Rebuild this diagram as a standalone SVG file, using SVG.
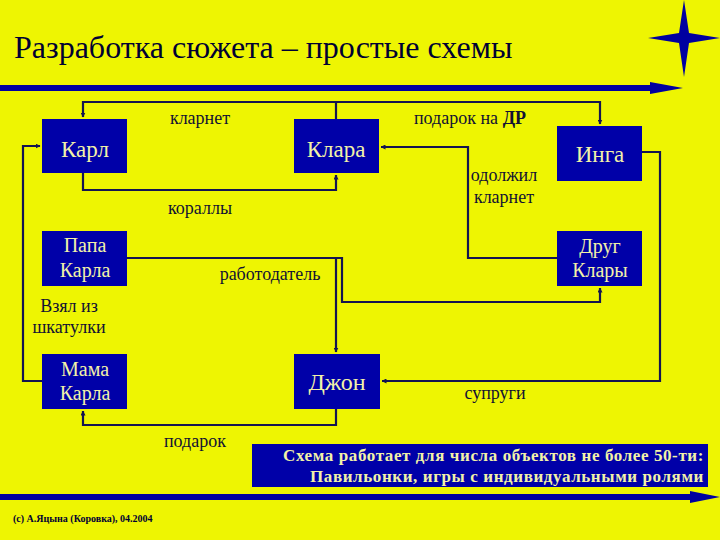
<svg xmlns="http://www.w3.org/2000/svg" width="720" height="540" viewBox="0 0 720 540">
<defs>
<style>
.node{fill:#0000A8;}
.nt{font-family:"Liberation Serif","DejaVu Serif",serif;fill:#F2F2A8;text-anchor:middle;}
.lbl{font-family:"Liberation Serif","DejaVu Serif",serif;fill:#111133;font-size:18px;text-anchor:middle;}
.conn{fill:none;stroke:#141450;stroke-width:2.2;}
.note{font-family:"Liberation Serif","DejaVu Serif",serif;font-size:17px;font-weight:bold;fill:#F2F2A8;text-anchor:end;letter-spacing:0.6px;}
</style>
<marker id="ah" viewBox="0 0 10 10" refX="9" refY="5" markerWidth="5" markerHeight="5" orient="auto" markerUnits="userSpaceOnUse">
<path d="M0,0 L10,5 L0,10 z" fill="#141450"/>
</marker>
</defs>
<rect x="0" y="0" width="720" height="540" fill="#EEF502"/>
<g id="title">
<text x="14" y="58" font-family="Liberation Serif, DejaVu Serif, serif" font-size="32" fill="#000033">Разработка сюжета – простые схемы</text>
</g>
<g id="star">
<path d="M684,0 L689,33 L720,38 L689,43 L684,77 L679,43 L648,38 L679,33 Z" fill="#0000A0"/>
</g>
<g id="bars">
<rect x="0" y="85" width="652" height="6" fill="#0000A0"/>
<path d="M650,82 L683,88 L650,94 Z" fill="#0000A0"/>
<rect x="0" y="494" width="692" height="6" fill="#0000A0"/>
<path d="M690,491 L720,497 L690,503 Z" fill="#0000A0"/>
</g>
<g id="connectors">
<path class="conn" d="M336,119 V102 H83 V117" marker-end="url(#ah)"/>
<path class="conn" d="M336,102 H600 V124" marker-end="url(#ah)"/>
<path class="conn" d="M83,173 V190 H336 V175" marker-end="url(#ah)"/>
<path class="conn" d="M557,258 H468 V147 H381" marker-end="url(#ah)"/>
<path class="conn" d="M642,152 H660 V381 H382" marker-end="url(#ah)"/>
<path class="conn" d="M127,258 H336 V352" marker-end="url(#ah)"/>
<path class="conn" d="M336,258 H342 V302 H600 V288" marker-end="url(#ah)"/>
<path class="conn" d="M42,381 H23 V146 H40" marker-end="url(#ah)"/>
<path class="conn" d="M336,409 V425 H83 V411" marker-end="url(#ah)"/>
</g>
<g id="labels">
<text class="lbl" x="200" y="124">кларнет</text>
<text class="lbl" x="200" y="214">кораллы</text>
<text class="lbl" x="470" y="124">подарок на <tspan font-weight="bold">ДР</tspan></text>
<text class="lbl" x="504" y="181">одолжил</text>
<text class="lbl" x="504" y="203">кларнет</text>
<text class="lbl" x="270" y="280">работодатель</text>
<text class="lbl" x="69" y="312">Взял из</text>
<text class="lbl" x="69" y="333">шкатулки</text>
<text class="lbl" x="495" y="399">супруги</text>
<text class="lbl" x="195" y="447">подарок</text>
</g>
<g id="n-karl"><rect class="node" x="42" y="119" width="85" height="54"/><text class="nt" x="85" y="157" font-size="23">Карл</text></g>
<g id="n-klara"><rect class="node" x="294" y="119" width="85" height="54"/><text class="nt" x="336" y="157" font-size="23">Клара</text></g>
<g id="n-inga"><rect class="node" x="557" y="126" width="85" height="55"/><text class="nt" x="600" y="162" font-size="23">Инга</text></g>
<g id="n-drug"><rect class="node" x="557" y="231" width="85" height="55"/><text class="nt" x="600" y="253" font-size="20">Друг</text><text class="nt" x="600" y="277" font-size="20">Клары</text></g>
<g id="n-papa"><rect class="node" x="42" y="231" width="85" height="55"/><text class="nt" x="85" y="252" font-size="20">Папа</text><text class="nt" x="85" y="277" font-size="20">Карла</text></g>
<g id="n-mama"><rect class="node" x="42" y="354" width="85" height="55"/><text class="nt" x="85" y="376" font-size="20">Мама</text><text class="nt" x="85" y="400" font-size="20">Карла</text></g>
<g id="n-john"><rect class="node" x="294" y="354" width="86" height="55"/><text class="nt" x="337" y="390" font-size="24">Джон</text></g>
<g id="note">
<rect x="252" y="444" width="456" height="43" fill="#0000A8"/>
<text class="note" x="704" y="461">Схема работает для числа объектов не более 50-ти:</text>
<text class="note" x="704" y="482">Павильонки, игры с индивидуальными ролями</text>
</g>
<g id="footer">
<text x="13" y="522" font-family="Liberation Serif, DejaVu Serif, serif" font-size="10" font-weight="bold" fill="#000033">(c) А.Яцына (Коровка), 04.2004</text>
</g>
</svg>
